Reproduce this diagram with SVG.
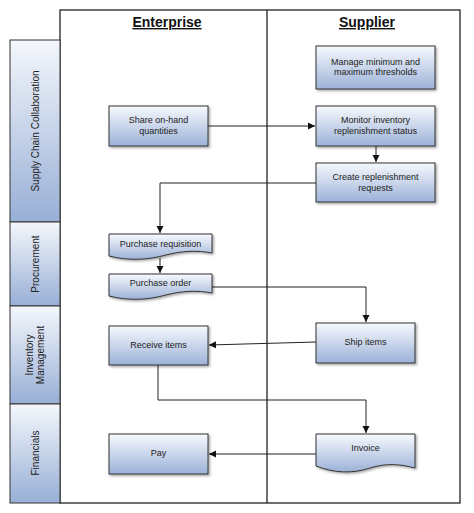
<svg xmlns="http://www.w3.org/2000/svg" width="474" height="513" viewBox="0 0 474 513">
<defs>
<linearGradient id="g" x1="0" y1="0" x2="0" y2="1">
<stop offset="0" stop-color="#f7f9fd"/>
<stop offset="1" stop-color="#9cb2d8"/>
</linearGradient>
<linearGradient id="gl" x1="0" y1="0" x2="0" y2="1">
<stop offset="0" stop-color="#f4f7fc"/>
<stop offset="1" stop-color="#98afd6"/>
</linearGradient>
<marker id="ah" markerWidth="8" markerHeight="8" refX="7" refY="4" orient="auto" markerUnits="userSpaceOnUse">
<path d="M0,0.5 L7,4 L0,7.5 Z" fill="#111"/>
</marker>
<filter id="sh" x="-10%" y="-10%" width="130%" height="130%">
<feDropShadow dx="1.5" dy="1.5" stdDeviation="0.8" flood-color="#000" flood-opacity="0.35"/>
</filter>
</defs>
<style>
.box{fill:url(#g);stroke:#333;stroke-width:1;filter:url(#sh)}
.lane{fill:url(#gl);stroke:#333;stroke-width:1}
.t{font-family:"Liberation Sans",Arial,sans-serif;font-size:9px;fill:#222;text-anchor:middle}
.lt{font-family:"Liberation Sans",Arial,sans-serif;font-size:10px;fill:#222;text-anchor:middle}
.h{font-family:"Liberation Sans",Arial,sans-serif;font-size:14px;font-weight:bold;fill:#111;text-anchor:middle;text-decoration:underline}
.c{fill:none;stroke:#222;stroke-width:1;marker-end:url(#ah)}
</style>
<rect width="474" height="513" fill="#fff"/>
<g id="frame">
<rect x="60" y="10" width="400" height="493" fill="none" stroke="#222" stroke-width="1.3"/>
<line x1="267" y1="10" x2="267" y2="503" stroke="#222" stroke-width="1.3"/>
<text class="h" x="167" y="27">Enterprise</text>
<text class="h" x="367" y="27">Supplier</text>
</g>
<g id="lanes">
<g id="lane-scc"><rect class="lane" x="10" y="40" width="50" height="182"/><text class="lt" transform="translate(39,131) rotate(-90)">Supply Chain Collaboration</text></g>
<g id="lane-proc"><rect class="lane" x="10" y="222" width="50" height="84"/><text class="lt" transform="translate(39,264) rotate(-90)">Procurement</text></g>
<g id="lane-inv"><rect class="lane" x="10" y="306" width="50" height="98"/><text class="lt" transform="translate(33,355) rotate(-90)">Inventory</text><text class="lt" transform="translate(44,355) rotate(-90)">Management</text></g>
<g id="lane-fin"><rect class="lane" x="10" y="404" width="50" height="99"/><text class="lt" transform="translate(39,453) rotate(-90)">Financials</text></g>
</g>
<g id="connectors">
<path class="c" d="M208,126 H315"/>
<path class="c" d="M376,146 V162"/>
<path class="c" d="M316,183 H160 V233"/>
<path class="c" d="M160,258 V273"/>
<path class="c" d="M212,287 H366 V322"/>
<path class="c" d="M316,342 L209,345"/>
<path class="c" d="M158,365 V400 H366 V433"/>
<path class="c" d="M316,454 H209"/>
</g>
<g id="n-manage"><rect class="box" x="316" y="46" width="119" height="43"/><text class="t" x="375.5" y="65">Manage minimum and</text><text class="t" x="375.5" y="75">maximum thresholds</text></g>
<g id="n-share"><rect class="box" x="109" y="106" width="99" height="40"/><text class="t" x="158.5" y="123">Share on-hand</text><text class="t" x="158.5" y="134">quantities</text></g>
<g id="n-monitor"><rect class="box" x="316" y="106" width="119" height="40"/><text class="t" x="375.5" y="123">Monitor inventory</text><text class="t" x="375.5" y="134">replenishment status</text></g>
<g id="n-create"><rect class="box" x="316" y="163" width="119" height="39"/><text class="t" x="375.5" y="180">Create replenishment</text><text class="t" x="375.5" y="191">requests</text></g>
<g id="n-pr"><path class="box" d="M109,234 H212 V253 C196,250 182,251 166,255 C148,260 128,261 109,256 Z"/><text class="t" x="160.5" y="247">Purchase requisition</text></g>
<g id="n-po"><path class="box" d="M109,274 H212 V293 C196,290 182,291 166,295 C148,300 128,301 109,296 Z"/><text class="t" x="160.5" y="286">Purchase order</text></g>
<g id="n-ship"><rect class="box" x="316" y="323" width="99" height="40"/><text class="t" x="365.5" y="345">Ship items</text></g>
<g id="n-receive"><rect class="box" x="109" y="326" width="99" height="39"/><text class="t" x="158.5" y="348">Receive items</text></g>
<g id="n-pay"><rect class="box" x="109" y="434" width="99" height="40"/><text class="t" x="158.5" y="456">Pay</text></g>
<g id="n-invoice"><path class="box" d="M316,434 H415 V468 C400,464 386,463 370,468 C352,474 334,473 316,466 Z"/><text class="t" x="365.5" y="451">Invoice</text></g>
</svg>
